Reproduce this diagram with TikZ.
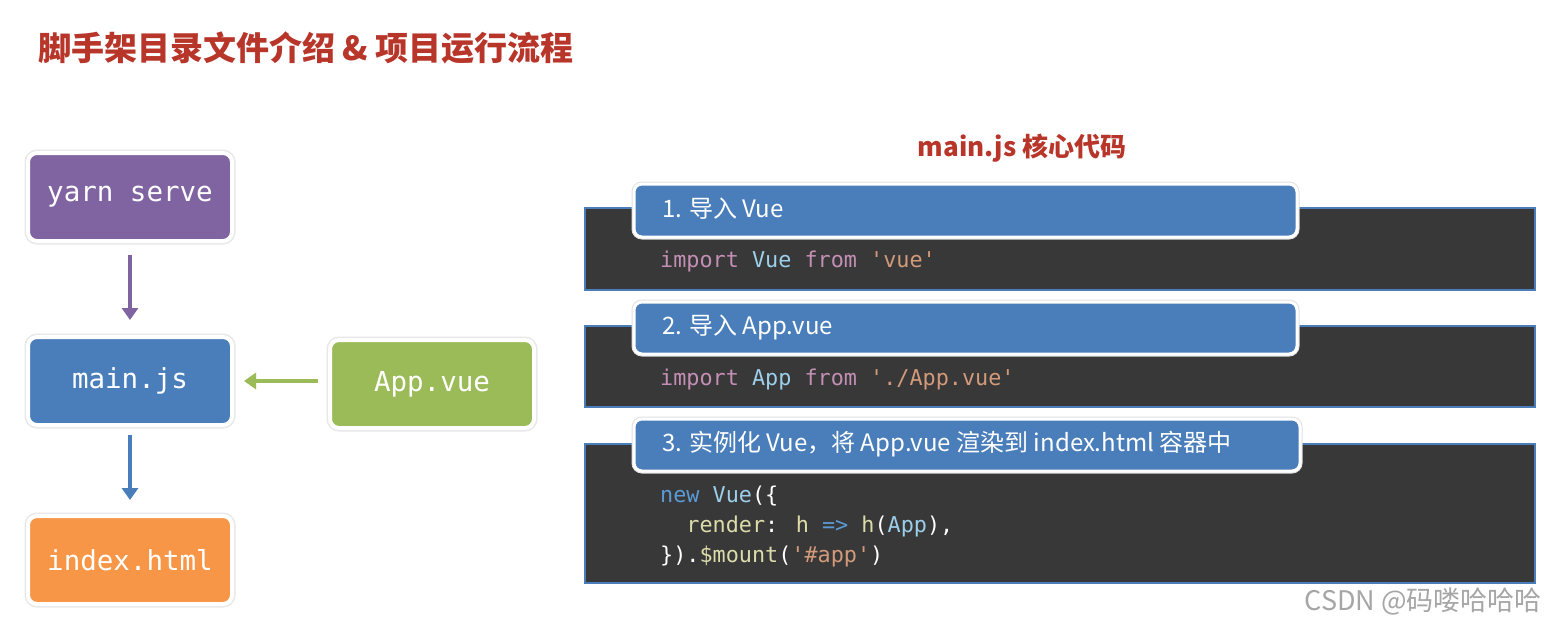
\documentclass[tikz,border=0pt]{standalone}
\usepackage{fontspec}
\setmainfont{Noto Sans CJK SC}
\newfontfamily\cmono{DejaVu Sans Mono}
\usetikzlibrary{arrows.meta}
\definecolor{ttl}{HTML}{B8352A}
\definecolor{cpur}{HTML}{8064A2}
\definecolor{cblu}{HTML}{4A7EBB}
\definecolor{cgrn}{HTML}{9BBB59}
\definecolor{corg}{HTML}{F79646}
\definecolor{dark}{HTML}{383838}
\definecolor{kw}{HTML}{C38FB4}
\definecolor{idn}{HTML}{9CCFEA}
\definecolor{str}{HTML}{D29A7A}
\definecolor{kb}{HTML}{5A9BD5}
\definecolor{fn}{HTML}{DCDCAA}
\begin{document}
\begin{tikzpicture}[x=1pt,y=-1pt,
  flow/.style={draw=white,line width=4pt,rounded corners=9pt,text=white,font=\cmono\fontsize{27.5}{30}\selectfont,minimum width=204pt,minimum height=88pt,inner sep=0pt,
    preaction={draw=black!9,line width=7pt}},
  arr/.style={line width=4pt,-{Triangle[length=12pt,width=16pt]}},
  panel/.style={draw=cblu,fill=dark,line width=2.5pt},
  head/.style={draw=white,fill=cblu,line width=3pt,rounded corners=8pt,preaction={draw=black!12,line width=5pt}},
  htxt/.style={anchor=west,text=white,font=\fontsize{24}{26}\selectfont,inner sep=0pt},
  code/.style={anchor=west,font=\cmono\fontsize{21.8}{30}\selectfont,inner sep=0pt,text=white}]
\useasboundingbox (0,0) rectangle (1546,626);
\fill[white] (0,0) rectangle (1546,626);
\node[anchor=west,text=ttl,font=\bfseries\fontsize{33}{36}\selectfont,inner sep=0pt] (title) at (38,48) {脚手架目录文件介绍 \& 项目运行流程};
\node[flow,fill=cpur] (yarn) at (130,197) {yarn serve};
\node[flow,fill=cblu] (main) at (130,381) {main.js};
\node[flow,fill=cgrn] (app) at (432,384) {App.vue};
\node[flow,fill=corg] (idx) at (130,560) {index.html};
\coordinate (appl) at ([xshift=-10pt]app.west |- main.east);
\draw[arr,draw=cpur,fill=cpur] ([yshift=-12pt]yarn.south) -- ([yshift=15pt]main.north);
\draw[arr,draw=cgrn,fill=cgrn] (appl) -- ([xshift=10pt]main.east);
\draw[arr,draw=cblu,fill=cblu] ([yshift=-8pt]main.south) -- ([yshift=14pt]idx.north);
\node[text=ttl,font=\bfseries\fontsize{26}{28}\selectfont,inner sep=0pt] (sub) at (1022,148) {main.js 核心代码};
% panel 1
\draw[panel] (585,208) rectangle (1535,290);
\draw[head] (634,184) rectangle (1297,237);
\node[htxt] (h1) at (662,209) {1. 导入 Vue};
\node[code] (c1) at (660,261) {\textcolor{kw}{import} \textcolor{idn}{Vue} \textcolor{kw}{from} \textcolor{str}{'vue'}};
% panel 2
\draw[panel] (585,326) rectangle (1535,407);
\draw[head] (634,302) rectangle (1297,354);
\node[htxt] (h2) at (662,327) {2. 导入 App.vue};
\node[code] (c2) at (660,379) {\textcolor{kw}{import} \textcolor{idn}{App} \textcolor{kw}{from} \textcolor{str}{'./App.vue'}};
% panel 3
\draw[panel] (585,444) rectangle (1535,583);
\draw[head] (634,419) rectangle (1300,471);
\node[htxt] (h3) at (662,444) {3. 实例化 Vue，将 App.vue 渲染到 index.html 容器中};
\node[code] (c3) at (660,496) {\textcolor{kb}{new} \textcolor{idn}{Vue}(\{};
\node[code] (c4) at (660,526) {\ \ \textcolor{fn}{render}: \textcolor{fn}{h} \textcolor{kb}{=>} \textcolor{fn}{h}(\textcolor{idn}{App}),};
\node[code] (c5) at (660,556) {\}).\textcolor{fn}{\$mount}(\textcolor{str}{'\#app'})};
\node[anchor=east,text=gray!70,font=\fontsize{27}{30}\selectfont,inner sep=0pt] (wm) at (1542,601) {CSDN @码喽哈哈哈};
\end{tikzpicture}
\end{document}
